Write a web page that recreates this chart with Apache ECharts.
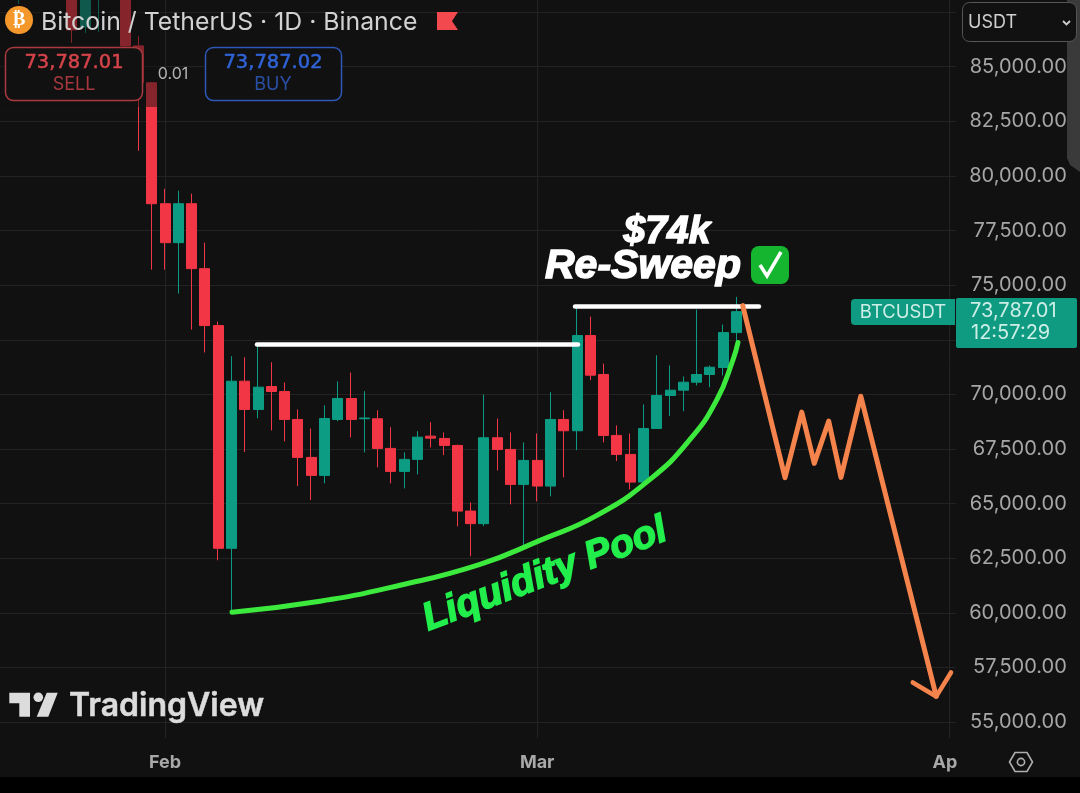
<!DOCTYPE html>
<html>
<head>
<meta charset="utf-8">
<style>
html, body { margin: 0; padding: 0; background: #000; }
#main { width: 1080px; height: 793px; }
</style>
<script src="https://cdn.jsdelivr.net/npm/echarts@6/dist/echarts.min.js"></script>
</head>
<body>
<div id="main"></div>
<script>
// one row per trading day from 20 Jan
var dates = [
  'Jan 20','Jan 21','Jan 22','Jan 23','Jan 24','Jan 25','Jan 26','Jan 27','Jan 28','Jan 29','Jan 30','Jan 31',
  'Feb 1','Feb 2','Feb 3','Feb 4','Feb 5','Feb 6','Feb 7','Feb 8','Feb 9','Feb 10','Feb 11','Feb 12','Feb 13','Feb 14',
  'Feb 15','Feb 16','Feb 17','Feb 18','Feb 19','Feb 20','Feb 21','Feb 22','Feb 23','Feb 24','Feb 25','Feb 26','Feb 27','Feb 28',
  'Mar 1','Mar 2','Mar 3','Mar 4','Mar 5','Mar 6','Mar 7','Mar 8','Mar 9','Mar 10','Mar 11','Mar 12','Mar 13','Mar 14','Mar 15',
  'Mar 16','Mar 17','Mar 18','Mar 19','Mar 20','Mar 21','Mar 22','Mar 23','Mar 24','Mar 25','Mar 26','Mar 27','Mar 28','Mar 29','Mar 30','Mar 31',
  'Apr 1'
];
var opens = [90600,90000,90500,90200,90100,90000,86823,88500,89500,88800,85954,84262,
  78728,76945,78728,75756,73149,62952,70602,69308,70360,70131,68851,67113,66290,68851,
  69811,68883,68883,67525,66473,67022,68087,67982,67662,64657,64081,68014,67479,65878,
  66976,65801,68851,68334,72692,70909,68119,67250,65983,68439,69948,70191,70556,70909,71229,72829];
var closes = [90200,90500,90200,90100,90400,86686,90000,89500,88800,85954,84262,78728,
  76945,78728,75756,73149,62952,70602,69308,70328,70131,68851,67113,66290,68896,69811,
  68851,68919,67525,66473,67022,68041,67996,67662,64657,64081,68014,67479,65878,66976,
  65801,68851,68334,72692,70877,68119,67250,65983,68439,69948,70191,70556,70909,71242,72829,73787];
var lows = [90100,87874,89800,89500,89900,86091,86548,86594,88300,85900,81152,75710,
  75710,74613,72966,71915,62403,60025,67355,68910,68348,67845,65801,65160,65924,68773,
  68028,67342,66656,65924,65695,66336,67570,67218,63958,62586,63971,66519,64964,63089,
  65101,65329,66198,67447,70648,67799,66944,65650,65900,68439,69002,69230,70406,70328,70863,72372];
var highs = [90900,91000,90800,90500,90600,90500,90500,90000,89900,90000,86400,84300,
  79414,79323,79186,76945,73332,71745,71700,72280,71471,70543,69308,68439,69491,70588,
  71000,70145,69276,68499,67342,68316,68727,68256,67700,65055,69994,68896,68256,67799,
  68211,70099,69276,74018,73561,71412,68576,68211,69537,71791,71320,70817,73881,71320,73195,74462];

var priceTicks = [55000,57500,60000,62500,65000,67500,70000,75000,77500,80000,82500,85000];
var priceLabels = ['55,000.00','57,500.00','60,000.00','62,500.00','65,000.00','67,500.00','70,000.00','75,000.00','77,500.00','80,000.00','82,500.00','85,000.00'];
var monthTicks = ['Feb 1','Mar 1','Apr 1'];
var monthLabels = ['Feb','Mar','Ap\u00a0\u00a0'];

// drawings on top of the candles: [day index, price]
var sweepLow = [[18.92,72280],[43.07,72280]];
var sweepHigh = [[42.85,74020],[56.69,74020]];
var poolCurve = [[17.04,60025],[23.66,60528],[29.68,61260],[35.7,62220],[40.22,63317],[44.5,64461],
  [48.49,66107],[51.5,67936],[53.53,69765],[54.74,71595],[55.11,72372]];
var dropPath = [[55.47,74064],[58.65,66185],[59.91,69185],[60.85,66839],[61.94,68773],[62.86,66198],[64.35,69916],[70.03,56170]];
var arrowHead = [[68.26,56810],[70.03,56170],[71.14,57267]];

var candles = opens.map(function (o, i) { return [o, closes[i], lows[i], highs[i]]; });

var bg = '#111111', gridColor = '#232323';
var upColor = '#0c9c83', downColor = '#f23645';
var uiFont = 'Inter, Roboto, sans-serif';
var boldFont = '"Liberation Sans", Arial, sans-serif';

function drawing(points, color, width) {
  return {
    type: 'line', xAxisIndex: 1, data: points, showSymbol: false, silent: true, z: 5,
    lineStyle: { color: color, width: width, cap: 'round', join: 'round' }
  };
}

var myChart = echarts.init(document.getElementById('main'));
var option = {
  animation: false,
  backgroundColor: bg,
  grid: { left: -1.1, top: -42.5, width: 956.9, height: 764.5, outerBoundsMode: 'none' },
  xAxis: [
    {
      type: 'category',
      data: dates,
      axisLine: { show: false },
      axisTick: {
        show: true, length: 16, alignWithLabel: true,
        lineStyle: { color: gridColor },
        interval: function (i, v) { return monthTicks.indexOf(v) >= 0; }
      },
      splitLine: {
        show: true, alignWithLabel: true,
        lineStyle: { color: gridColor },
        interval: function (i, v) { return monthTicks.indexOf(v) >= 0; }
      },
      axisLabel: {
        color: '#a8a8a8', fontFamily: uiFont, fontSize: 18, fontWeight: 'bold', margin: 32,
        interval: function (i, v) { return monthTicks.indexOf(v) >= 0; },
        formatter: function (v) { return monthLabels[monthTicks.indexOf(v)]; }
      }
    },
    { type: 'value', show: false, min: -0.5, max: 71.5, splitLine: { show: false } }
  ],
  yAxis: {
    type: 'value',
    position: 'right',
    min: 55000,
    max: 90000,
    interval: 2500,
    axisLine: { show: false },
    axisTick: { show: false },
    splitLine: { lineStyle: { color: gridColor } },
    axisLabel: {
      color: '#a6a6a6', fontFamily: uiFont, fontSize: 20, align: 'right', margin: 111,
      formatter: function (v) { var k = priceTicks.indexOf(v); return k >= 0 ? priceLabels[k] : ''; }
    }
  },
  series: [
    {
      type: 'candlestick',
      data: candles,
      barWidth: 10.5,
      itemStyle: { color: upColor, color0: downColor, borderColor: upColor, borderColor0: downColor, borderWidth: 1 }
    },
    drawing(sweepLow, '#ffffff', 4.5),
    drawing(sweepHigh, '#ffffff', 4.5),
    Object.assign(drawing(poolCurve, '#3cea3e', 5), { smooth: 0.5 }),
    drawing(dropPath, '#f5834c', 5),
    drawing(arrowHead, '#f5834c', 4.5)
  ],
  graphic: [
    // dim strip behind the symbol header
    { type: 'rect', z: 20, shape: { x: 0, y: 0, width: 160, height: 107 }, style: { fill: 'rgba(17,17,17,0.48)' } },
    // header
    { type: 'circle', z: 30, shape: { cx: 19, cy: 20, r: 14 }, style: { fill: '#f4982c' } },
    { type: 'text', z: 31, style: { x: 19, y: 20, text: '\u20bf', fill: '#fff', font: 'bold 19px "DejaVu Sans"', textAlign: 'center', textVerticalAlign: 'middle' } },
    { type: 'text', z: 30, style: { x: 41, y: 23, text: 'Bitcoin / TetherUS \u00b7 1D \u00b7 Binance', fill: '#d2d2d2', font: '24.8px ' + uiFont, textVerticalAlign: 'middle' } },
    { type: 'polygon', z: 30, shape: { points: [[437,12],[458,12],[452,21],[458,30],[437,30]] }, style: { fill: '#f2494f' } },
    // sell / buy boxes
    { type: 'rect', z: 30, shape: { x: 5.5, y: 47.5, width: 137, height: 53, r: 8 }, style: { fill: bg, stroke: '#a93a40', lineWidth: 1.5 } },
    { type: 'text', z: 31, style: { x: 74, y: 63, text: '73,787.01', fill: '#d5434a', stroke: '#d5434a', lineWidth: 0.5, font: '19.5px "DejaVu Sans"', textAlign: 'center', textVerticalAlign: 'middle' } },
    { type: 'text', z: 31, style: { x: 74, y: 85, text: 'SELL', fill: '#a8383e', font: '18px ' + uiFont, textAlign: 'center', textVerticalAlign: 'middle' } },
    { type: 'rect', z: 30, shape: { x: 205.5, y: 47.5, width: 136, height: 53, r: 8 }, style: { fill: bg, stroke: '#2c58b8', lineWidth: 1.5 } },
    { type: 'text', z: 31, style: { x: 273, y: 63, text: '73,787.02', fill: '#2f63d6', stroke: '#2f63d6', lineWidth: 0.5, font: '19.5px "DejaVu Sans"', textAlign: 'center', textVerticalAlign: 'middle' } },
    { type: 'text', z: 31, style: { x: 273, y: 85, text: 'BUY', fill: '#2a50a6', font: '18px ' + uiFont, textAlign: 'center', textVerticalAlign: 'middle' } },
    { type: 'text', z: 30, style: { x: 173, y: 74, text: '0.01', fill: '#b4b4b4', font: '16px ' + uiFont, textAlign: 'center', textVerticalAlign: 'middle' } },
    // scrollbar and currency box
    { type: 'polygon', z: 10, shape: { points: [[1067,0],[1080,0],[1080,172],[1070,165],[1067,158]] }, style: { fill: '#3a3a3a' } },
    { type: 'rect', z: 30, shape: { x: 962.5, y: 2.5, width: 114, height: 39, r: 7 }, style: { fill: bg, stroke: '#555555', lineWidth: 1 } },
    { type: 'text', z: 31, style: { x: 968, y: 23, text: 'USDT', fill: '#cfcfcf', font: '18px ' + uiFont, textVerticalAlign: 'middle' } },
    { type: 'polyline', z: 31, shape: { points: [[1063,21],[1066.5,24.5],[1070,21]] }, style: { stroke: '#cfcfcf', lineWidth: 1.8, fill: 'none' } },
    // last price tags
    { type: 'rect', z: 30, shape: { x: 851, y: 299, width: 104, height: 26, r: [4,0,0,4] }, style: { fill: '#0f9b82' } },
    { type: 'text', z: 31, style: { x: 903, y: 312, text: 'BTCUSDT', fill: '#cdeee6', font: '18.5px ' + uiFont, textAlign: 'center', textVerticalAlign: 'middle' } },
    { type: 'rect', z: 30, shape: { x: 956, y: 298, width: 121, height: 50, r: 2 }, style: { fill: '#0f9b82' } },
    { type: 'text', z: 31, style: { x: 970, y: 311, text: '73,787.01', fill: '#cdeee6', font: '20px ' + uiFont, textVerticalAlign: 'middle' } },
    { type: 'text', z: 31, style: { x: 971, y: 333, text: '12:57:29', fill: '#cdeee6', font: '20px ' + uiFont, textVerticalAlign: 'middle' } },
    // annotations
    { type: 'text', z: 40, style: { x: 667, y: 232, text: '$74k', fill: '#fff', stroke: '#fff', lineWidth: 1.5, font: 'italic bold 39px ' + boldFont, textAlign: 'center', textVerticalAlign: 'middle' } },
    { type: 'text', z: 40, style: { x: 545, y: 267, text: 'Re-Sweep', fill: '#fff', stroke: '#fff', lineWidth: 1.5, font: 'italic bold 41px ' + boldFont, textVerticalAlign: 'middle' } },
    { type: 'rect', z: 40, shape: { x: 751, y: 246, width: 38, height: 38, r: 8 }, style: { fill: '#16b52f' } },
    { type: 'polyline', z: 41, shape: { points: [[760,265],[767,276],[781,252]] }, style: { stroke: '#ffffff', lineWidth: 3.5, fill: 'none' } },
    { type: 'text', z: 40, rotation: 20.8 * Math.PI / 180, x: 545, y: 575, style: { x: 0, y: 0, text: 'Liquidity Pool', fill: '#22ef4b', stroke: '#22ef4b', lineWidth: 1.5, font: 'italic bold 39px ' + boldFont, textAlign: 'center', textVerticalAlign: 'middle' } },
    // TradingView logo
    { type: 'polygon', z: 30, shape: { points: [[9.3,692.7],[30,692.7],[30,716.7],[19.3,716.7],[19.3,703.3],[9.3,703.3]] }, style: { fill: '#dcdcdc' } },
    { type: 'circle', z: 30, shape: { cx: 38.3, cy: 697.3, r: 4.8 }, style: { fill: '#dcdcdc' } },
    { type: 'polygon', z: 30, shape: { points: [[46.7,692.7],[57.7,692.7],[48.3,716.7],[36.7,716.7]] }, style: { fill: '#dcdcdc' } },
    { type: 'text', z: 30, style: { x: 69, y: 706, text: 'TradingView', fill: '#dcdcdc', stroke: '#dcdcdc', lineWidth: 0.5, font: '600 32px ' + uiFont, textVerticalAlign: 'middle' } },
    // settings hexagon
    { type: 'polygon', z: 30, shape: { points: [[1009.5,762],[1015,752.5],[1027,752.5],[1032.5,762],[1027,771.5],[1015,771.5]] }, style: { fill: 'none', stroke: '#b0b0b0', lineWidth: 1.6 } },
    { type: 'circle', z: 30, shape: { cx: 1021, cy: 762, r: 3.6 }, style: { fill: 'none', stroke: '#b0b0b0', lineWidth: 1.6 } },
    // black strip under the screenshot
    { type: 'rect', z: 30, shape: { x: 0, y: 777, width: 1080, height: 16 }, style: { fill: '#000000' } }
  ]
};
myChart.setOption(option);
</script>
</body>
</html>
